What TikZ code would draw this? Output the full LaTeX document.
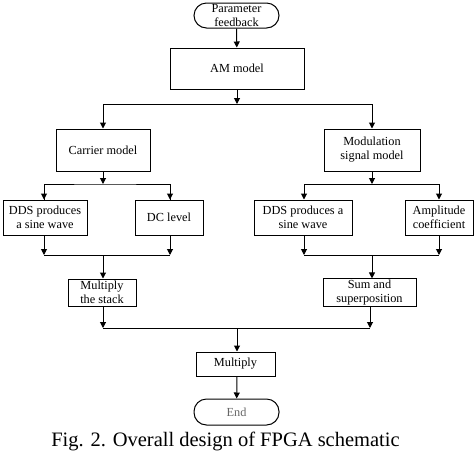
\documentclass[tikz,border=0pt]{standalone}
\usepackage{fontspec}
\setmainfont{Liberation Serif}
\usetikzlibrary{arrows.meta}

\begin{document}
\begin{tikzpicture}[x=1pt, y=-1pt,
    box/.style={rectangle, draw, line width=1pt, align=center, inner sep=1pt,
      font=\fontsize{12.3}{14}\selectfont},
    term/.style={box, rounded corners=12.5pt, minimum width=85pt, minimum height=25pt},
    arr/.style={-{Triangle[width=6pt, length=6pt]}, line width=1pt},
    link/.style={line width=1pt}]
    %FPGA flow
    \useasboundingbox (0,0) rectangle (474,451);
    \node[term] at (236.5, 15.5) (feed){Parameter\\feedback};
    \node[box, minimum width=134pt, minimum height=41pt] at (237, 68.5) (am){AM model};
    \node[box, minimum width=94pt, minimum height=42pt] at (103, 150) (carrier){Carrier model};
    \node[box, minimum width=96pt, minimum height=42pt] at (372, 150) (modul){Modulation\\signal model};
    \node[box, minimum width=84pt, minimum height=35pt] at (45, 217.5) (ddsa){DDS produces\\a sine wave};
    \node[box, minimum width=68pt, minimum height=35pt] at (169, 217.5) (dc){DC level};
    \node[box, minimum width=98pt, minimum height=35pt] at (303, 217.5) (ddsb){DDS produces a\\sine wave};
    \node[box, minimum width=68pt, minimum height=35pt] at (439, 217.5) (ampl){Amplitude\\coefficient};
    \node[box, minimum width=68pt, minimum height=27pt] at (102, 292.5) (stack){Multiply\\the stack};
    \node[box, minimum width=93pt, minimum height=27pt] at (369.5, 292.5) (sum){Sum and\\superposition};
    \node[box, minimum width=79pt, minimum height=24pt] at (235.5, 364) (mult){Multiply};
    \node[term, minimum height=26pt, text=black!60] at (236.5, 412) (end){End};
    \node[anchor=base, font=\fontsize{20.5}{24}\selectfont] at (225.5, 446) (cap){Fig. 2. Overall design of FPGA schematic};
    % junctions
    \coordinate (j1) at (237, 104);
    \coordinate (j2) at (103, 184);
    \coordinate (j3) at (372, 184);
    \coordinate (j4) at (103, 255);
    \coordinate (j5) at (372, 255);
    \coordinate (j6) at (237, 328);
    \draw[arr] (feed) -- (am);
    \draw[arr] (am) -- (j1);
    \draw[link] (carrier |- j1) -- (modul |- j1);
    \draw[arr] (carrier |- j1) -- (carrier);
    \draw[arr] (modul |- j1) -- (modul);
    \draw[arr] (carrier) -- (j2);
    \draw[link] (ddsa.north -| 44,0) |- (j2) -| (dc.north -| 170,0);
    \draw[arr] (44, 184) -- (ddsa.north -| 44,0);
    \draw[arr] (170, 184) -- (dc.north -| 170,0);
    \draw[arr] (modul) -- (j3);
    \draw[link] (304, 184) -- (439, 184);
    \draw[arr] (304, 184) -- (ddsb.north -| 304,0);
    \draw[arr] (439, 184) -- (ampl);
    \draw[arr] (ddsa.south -| 44,0) -- (44, 255);
    \draw[arr] (dc.south -| 170,0) -- (170, 255);
    \draw[link] (44, 255) -- (170, 255);
    \draw[arr] (j4) -- (stack.north -| j4);
    \draw[arr] (ddsb.south -| 304,0) -- (304, 255);
    \draw[arr] (ampl) -- (439, 255);
    \draw[link] (304, 255) -- (439, 255);
    \draw[arr] (j5) -- (sum.north -| j5);
    \draw[arr] (stack.south -| j4) -- (j4 |- j6);
    \draw[arr] (sum.south -| 370,0) -- (370, 328);
    \draw[link] (j4 |- j6) -- (370, 328);
    \draw[arr] (j6) -- (mult.north -| j6);
    \draw[arr] (mult.south -| j6) -- (end);
\end{tikzpicture}
\end{document}
